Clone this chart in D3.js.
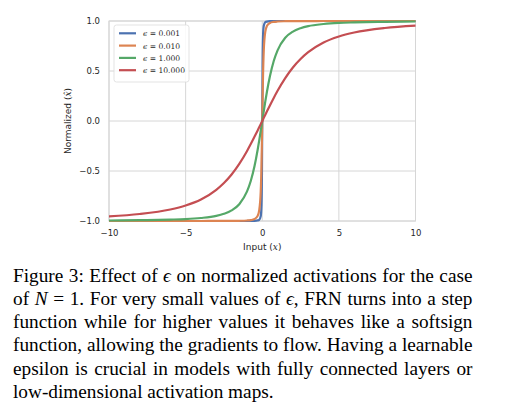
<!DOCTYPE html>
<html><head><meta charset="utf-8">
<script src="https://cdn.jsdelivr.net/npm/d3@7"></script>
<style>html,body{margin:0;padding:0;background:#fff;}svg{display:block;}</style>
</head><body>
<svg id="chart" width="532" height="416"></svg>
<script>
const xs = [-10,-8,-6,-5,-4,-3,-2.5,-2,-1.5,-1,-0.75,-0.5,-0.3,-0.2,-0.1,-0.05,-0.02,0,0.02,0.05,0.1,0.2,0.3,0.5,0.75,1,1.5,2,2.5,3,4,5,6,8,10];
const eps0001 = [-1,-1,-1,-1,-1,-1,-1,-1,-1,-1,-0.999,-0.998,-0.994,-0.988,-0.953,-0.845,-0.535,0,0.535,0.845,0.953,0.988,0.994,0.998,0.999,1,1,1,1,1,1,1,1,1,1];
const eps0010 = [-1,-1,-1,-1,-1,-0.999,-0.999,-0.999,-0.998,-0.995,-0.991,-0.981,-0.949,-0.894,-0.707,-0.447,-0.196,0,0.196,0.447,0.707,0.894,0.949,0.981,0.991,0.995,0.998,0.999,0.999,0.999,1,1,1,1,1];
const eps1 = [-0.995,-0.992,-0.986,-0.981,-0.970,-0.949,-0.928,-0.894,-0.832,-0.707,-0.600,-0.447,-0.287,-0.196,-0.0995,-0.05,-0.02,0,0.02,0.05,0.0995,0.196,0.287,0.447,0.600,0.707,0.832,0.894,0.928,0.949,0.970,0.981,0.986,0.992,0.995];
const eps10 = [-0.953,-0.930,-0.885,-0.845,-0.785,-0.688,-0.620,-0.535,-0.429,-0.302,-0.231,-0.156,-0.0945,-0.063,-0.0316,-0.0158,-0.0063,0,0.0063,0.0158,0.0316,0.063,0.0945,0.156,0.231,0.302,0.429,0.535,0.620,0.688,0.785,0.845,0.885,0.930,0.953];
const seriesNames = ["0.001","0.010","1.000","10.000"];
const seriesValues = [eps0001, eps0010, eps1, eps10];
const colors = ["#4C72B0","#DD8452","#55A868","#C44E52"];
const xTicks = [-10,-5,0,5,10];
const yTicks = [-1,-0.5,0,0.5,1];
const captionLines = [
  [["Figure"],["3:"],["Effect"],["of"],["ϵ",1],["on"],["normalized"],["activations"],["for"],["the"],["case"]],
  [["of"],["N",1],["="],["1."],["For"],["very"],["small"],["values"],["of"],["ϵ",1,","],["FRN"],["turns"],["into"],["a"],["step"]],
  [["function"],["while"],["for"],["higher"],["values"],["it"],["behaves"],["like"],["a"],["softsign"]],
  [["function,"],["allowing"],["the"],["gradients"],["to"],["flow."],["Having"],["a"],["learnable"]],
  [["epsilon"],["is"],["crucial"],["in"],["models"],["with"],["fully"],["connected"],["layers"],["or"]],
  [["low-dimensional"],["activation"],["maps."]]
];

const svg = d3.select("#chart");
const L = 109, R = 415.5, T = 21, B = 221;
const x = d3.scaleLinear().domain([-10,10]).range([L,R]);
const y = d3.scaleLinear().domain([-1,1]).range([B,T]);
const gridC = "#d6d6d6", textC = "#262626";

const g = svg.append("g");
g.selectAll("line.gx").data(xTicks).join("line")
  .attr("x1",d=>x(d)).attr("x2",d=>x(d)).attr("y1",T).attr("y2",B)
  .attr("stroke",gridC).attr("stroke-width",1);
g.selectAll("line.gy").data(yTicks).join("line")
  .attr("y1",d=>y(d)).attr("y2",d=>y(d)).attr("x1",L).attr("x2",R)
  .attr("stroke",gridC).attr("stroke-width",1);
g.append("rect").attr("x",L).attr("y",T).attr("width",R-L).attr("height",B-T)
  .attr("fill","none").attr("stroke",gridC).attr("stroke-width",1);

const fmtMinus = s => s.replace("-","\u2212");
const xAxis = d3.axisBottom(x).tickValues(xTicks).tickSize(0).tickPadding(9).tickFormat(d=>fmtMinus(d3.format("d")(d)));
const yAxis = d3.axisLeft(y).tickValues(yTicks).tickSize(0).tickPadding(9).tickFormat(d=>fmtMinus(d3.format(".1f")(d)));
const gx = svg.append("g").attr("transform",`translate(0,${B})`).call(xAxis);
const gy = svg.append("g").attr("transform",`translate(${L},0)`).call(yAxis);
[gx,gy].forEach(a=>{a.select(".domain").remove();
  a.selectAll("text").attr("fill",textC).style("font-family","DejaVu Sans").style("font-size","8.5px");});

svg.append("text").attr("x",(L+R)/2).attr("y",250).attr("text-anchor","middle")
  .style("font-family","DejaVu Sans").style("font-size","9px").attr("fill",textC)
  .html('Input (<tspan font-family="DejaVu Serif" font-style="italic">x</tspan>)');
svg.append("text").attr("transform",`translate(71,${(T+B)/2}) rotate(-90)`).attr("text-anchor","middle")
  .style("font-family","DejaVu Sans").style("font-size","9px").attr("fill",textC)
  .html('Normalized (<tspan font-family="DejaVu Serif" font-style="italic">x̂</tspan>)');

const line = d3.line().x((d,i)=>x(xs[i])).y(d=>y(d)).curve(d3.curveMonotoneX);
svg.append("clipPath").attr("id","clipP").append("rect").attr("x",L).attr("y",T-2).attr("width",R-L).attr("height",B-T+4);
svg.append("g").attr("clip-path","url(#clipP)").selectAll("path").data(seriesValues).join("path")
  .attr("d",line).attr("fill","none").attr("stroke",(d,i)=>colors[i]).attr("stroke-width",2.2)
  .attr("stroke-linecap","round");

const lg = svg.append("g");
lg.append("rect").attr("x",114).attr("y",25).attr("width",75).attr("height",57).attr("rx",2.5)
  .attr("fill","#fff").attr("fill-opacity",0.85).attr("stroke","#dcdcdc").attr("stroke-width",0.8);
seriesNames.forEach((n,i)=>{
  const yy = 33.3 + i*12.3;
  lg.append("line").attr("x1",119).attr("x2",136).attr("y1",yy).attr("y2",yy)
    .attr("stroke",colors[i]).attr("stroke-width",2.2);
  lg.append("text").attr("x",143).attr("y",yy+3).style("font-family","DejaVu Serif").style("font-size","7.6px")
    .attr("fill",textC).html(`<tspan font-style="italic">ϵ</tspan> = ${n}`);
});

// caption: pick font size so that full lines fit with natural word spacing, then justify
const capL = 13, capR = 472.5, base0 = 281.5, lh = 23.3, fs0 = 18;
const capFont = "'Liberation Serif','Times New Roman',serif";
function makeLine(words, by, fs){
  return words.map(w=>{
    const t = svg.append("text").attr("y",by).style("font-family",capFont).style("font-size",fs+"px").attr("fill","#000");
    t.append("tspan").attr("font-style",w[1]?"italic":null).text(w[0]);
    if (w[2]) t.append("tspan").text(w[2]);
    return t;
  });
}
// measure at fs0
let ratios = [];
captionLines.slice(0,-1).forEach(words=>{
  const ns = makeLine(words, -100, fs0);
  const s = d3.sum(ns, n=>n.node().getComputedTextLength()) + (words.length-1)*fs0*0.25;
  ratios.push((capR-capL)/s);
  ns.forEach(n=>n.remove());
});
const fs = fs0 * d3.min(ratios);
captionLines.forEach((words,li)=>{
  const by = base0 + li*lh;
  const nodes = makeLine(words, by, fs);
  const widths = nodes.map(n=>n.node().getComputedTextLength());
  const sum = d3.sum(widths);
  const last = li === captionLines.length-1;
  const gap = last ? fs*0.25 : (capR-capL-sum)/(words.length-1);
  let cx = capL;
  nodes.forEach((n,i)=>{ n.attr("x",cx); cx += widths[i]+gap; });
});
</script>
</body></html>
